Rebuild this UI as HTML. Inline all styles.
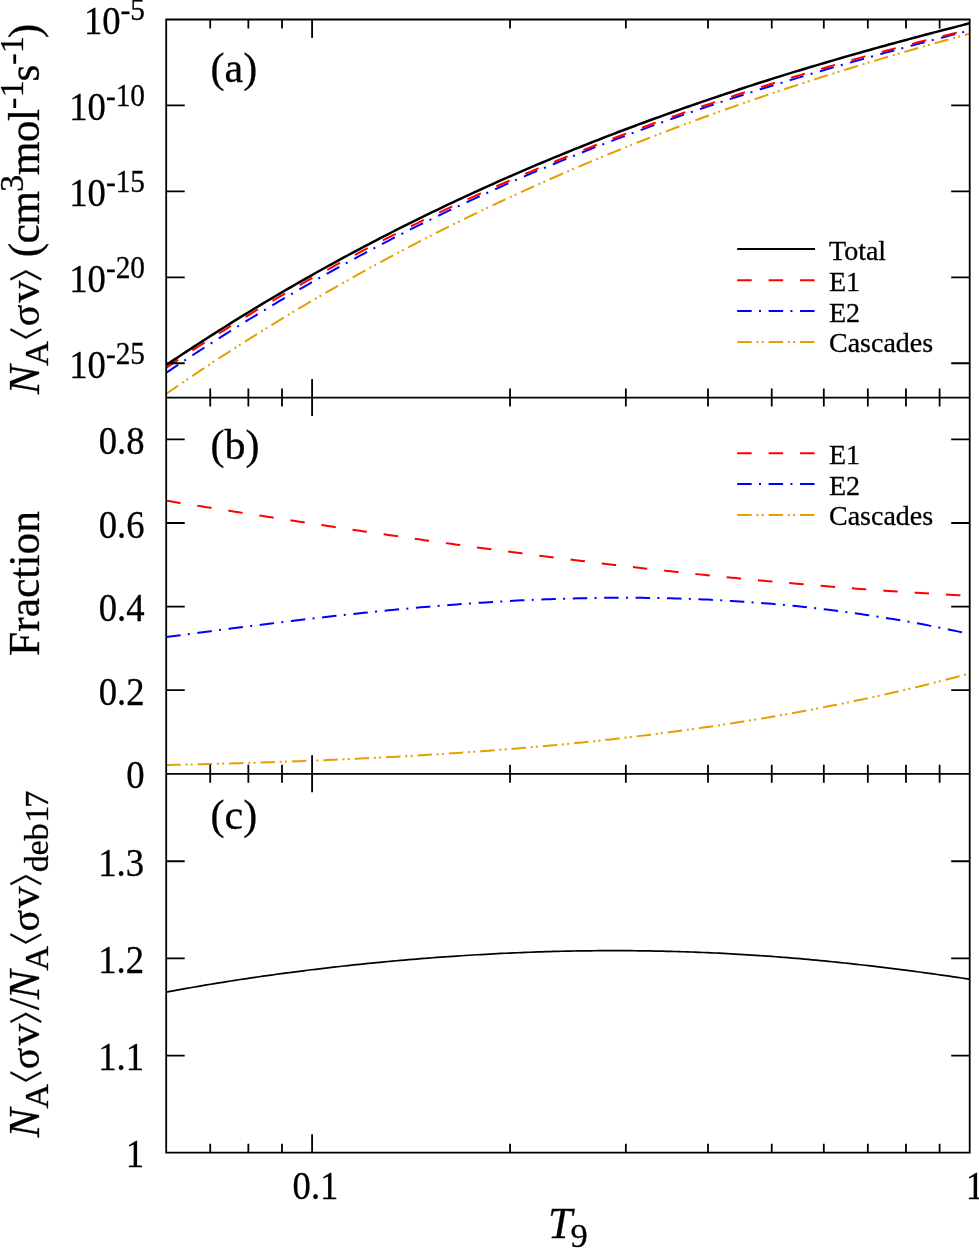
<!DOCTYPE html><html><head><meta charset="utf-8"><title>Rate plot</title><style>html,body{margin:0;padding:0;background:#fff;}svg{display:block;}text{font-family:"Liberation Serif","DejaVu Serif",serif;fill:#000;stroke:#000;stroke-width:0.3px;}</style></head><body>
<svg width="979" height="1248" viewBox="0 0 979 1248">
<rect width="979" height="1248" fill="#fff"/>
<defs><clipPath id="ca"><rect x="166.2" y="19.5" width="803.5" height="378.1"/></clipPath>
<clipPath id="cb"><rect x="166.2" y="397.6" width="803.5" height="376.2"/></clipPath>
<clipPath id="cc"><rect x="166.2" y="773.8" width="803.5" height="378.9"/></clipPath></defs>
<g fill="none" stroke-linejoin="round" clip-path="url(#ca)">
<polyline points="166.20,393.80 170.24,391.01 174.28,388.24 178.31,385.48 182.35,382.73 186.39,379.99 190.43,377.27 194.46,374.55 198.50,371.85 202.54,369.17 206.58,366.49 210.61,363.83 214.65,361.17 218.69,358.53 222.73,355.91 226.77,353.29 230.80,350.69 234.84,348.09 238.88,345.51 242.92,342.94 246.95,340.39 250.99,337.84 255.03,335.31 259.07,332.78 263.10,330.27 267.14,327.77 271.18,325.29 275.22,322.81 279.26,320.35 283.29,317.89 287.33,315.45 291.37,313.02 295.41,310.60 299.44,308.19 303.48,305.79 307.52,303.41 311.56,301.03 315.59,298.67 319.63,296.32 323.67,293.98 327.71,291.64 331.75,289.32 335.78,287.02 339.82,284.72 343.86,282.43 347.90,280.15 351.93,277.89 355.97,275.63 360.01,273.39 364.05,271.16 368.08,268.93 372.12,266.72 376.16,264.52 380.20,262.33 384.24,260.15 388.27,257.98 392.31,255.82 396.35,253.67 400.39,251.53 404.42,249.40 408.46,247.28 412.50,245.17 416.54,243.07 420.57,240.98 424.61,238.90 428.65,236.84 432.69,234.78 436.73,232.73 440.76,230.69 444.80,228.66 448.84,226.64 452.88,224.63 456.91,222.63 460.95,220.65 464.99,218.67 469.03,216.70 473.06,214.73 477.10,212.78 481.14,210.84 485.18,208.91 489.22,206.99 493.25,205.07 497.29,203.17 501.33,201.27 505.37,199.39 509.40,197.51 513.44,195.65 517.48,193.79 521.52,191.94 525.55,190.10 529.59,188.27 533.63,186.45 537.67,184.64 541.71,182.83 545.74,181.04 549.78,179.25 553.82,177.47 557.86,175.71 561.89,173.95 565.93,172.20 569.97,170.45 574.01,168.72 578.04,166.99 582.08,165.28 586.12,163.57 590.16,161.87 594.19,160.18 598.23,158.50 602.27,156.82 606.31,155.15 610.35,153.50 614.38,151.85 618.42,150.20 622.46,148.57 626.50,146.94 630.53,145.33 634.57,143.72 638.61,142.11 642.65,140.52 646.68,138.93 650.72,137.36 654.76,135.79 658.80,134.22 662.84,132.67 666.87,131.12 670.91,129.58 674.95,128.05 678.99,126.52 683.02,125.01 687.06,123.50 691.10,121.99 695.14,120.50 699.17,119.01 703.21,117.53 707.25,116.06 711.29,114.59 715.33,113.13 719.36,111.68 723.40,110.23 727.44,108.79 731.48,107.36 735.51,105.94 739.55,104.52 743.59,103.11 747.63,101.71 751.66,100.31 755.70,98.92 759.74,97.54 763.78,96.16 767.82,94.79 771.85,93.42 775.89,92.07 779.93,90.71 783.97,89.37 788.00,88.03 792.04,86.70 796.08,85.37 800.12,84.05 804.15,82.74 808.19,81.43 812.23,80.13 816.27,78.83 820.31,77.55 824.34,76.26 828.38,74.98 832.42,73.71 836.46,72.45 840.49,71.19 844.53,69.93 848.57,68.68 852.61,67.44 856.64,66.20 860.68,64.97 864.72,63.74 868.76,62.52 872.80,61.31 876.83,60.10 880.87,58.89 884.91,57.69 888.95,56.50 892.98,55.31 897.02,54.12 901.06,52.94 905.10,51.77 909.13,50.60 913.17,49.43 917.21,48.27 921.25,47.12 925.29,45.97 929.32,44.83 933.36,43.68 937.40,42.55 941.44,41.42 945.47,40.29 949.51,39.17 953.55,38.05 957.59,36.94 961.62,35.83 965.66,34.72 969.70,33.62" stroke="#e69f00" stroke-width="2.00" stroke-dasharray="14.5 4.75 2 3.25 2 4.93"/>
<polyline points="166.20,372.79 170.24,370.07 174.28,367.37 178.31,364.68 182.35,362.00 186.39,359.33 190.43,356.67 194.46,354.03 198.50,351.39 202.54,348.77 206.58,346.16 210.61,343.57 214.65,340.98 218.69,338.41 222.73,335.85 226.77,333.30 230.80,330.76 234.84,328.23 238.88,325.72 242.92,323.22 246.95,320.72 250.99,318.25 255.03,315.78 259.07,313.32 263.10,310.88 267.14,308.45 271.18,306.03 275.22,303.62 279.26,301.22 283.29,298.84 287.33,296.46 291.37,294.10 295.41,291.75 299.44,289.41 303.48,287.08 307.52,284.76 311.56,282.46 315.59,280.17 319.63,277.88 323.67,275.61 327.71,273.35 331.75,271.10 335.78,268.87 339.82,266.64 343.86,264.43 347.90,262.22 351.93,260.03 355.97,257.85 360.01,255.68 364.05,253.52 368.08,251.38 372.12,249.24 376.16,247.11 380.20,245.00 384.24,242.89 388.27,240.80 392.31,238.72 396.35,236.65 400.39,234.59 404.42,232.54 408.46,230.50 412.50,228.47 416.54,226.46 420.57,224.45 424.61,222.45 428.65,220.47 432.69,218.49 436.73,216.53 440.76,214.57 444.80,212.63 448.84,210.70 452.88,208.77 456.91,206.86 460.95,204.96 464.99,203.07 469.03,201.19 473.06,199.31 477.10,197.45 481.14,195.60 485.18,193.76 489.22,191.93 493.25,190.11 497.29,188.30 501.33,186.49 505.37,184.70 509.40,182.92 513.44,181.15 517.48,179.39 521.52,177.63 525.55,175.89 529.59,174.16 533.63,172.43 537.67,170.72 541.71,169.01 545.74,167.32 549.78,165.63 553.82,163.96 557.86,162.29 561.89,160.63 565.93,158.98 569.97,157.34 574.01,155.71 578.04,154.09 582.08,152.47 586.12,150.87 590.16,149.27 594.19,147.69 598.23,146.11 602.27,144.54 606.31,142.98 610.35,141.43 614.38,139.88 618.42,138.35 622.46,136.82 626.50,135.31 630.53,133.80 634.57,132.30 638.61,130.80 642.65,129.32 646.68,127.84 650.72,126.37 654.76,124.91 658.80,123.46 662.84,122.01 666.87,120.58 670.91,119.15 674.95,117.73 678.99,116.31 683.02,114.91 687.06,113.51 691.10,112.12 695.14,110.73 699.17,109.36 703.21,107.99 707.25,106.63 711.29,105.27 715.33,103.93 719.36,102.58 723.40,101.25 727.44,99.92 731.48,98.61 735.51,97.29 739.55,95.99 743.59,94.69 747.63,93.39 751.66,92.11 755.70,90.83 759.74,89.56 763.78,88.29 767.82,87.03 771.85,85.77 775.89,84.53 779.93,83.28 783.97,82.05 788.00,80.82 792.04,79.59 796.08,78.37 800.12,77.16 804.15,75.95 808.19,74.75 812.23,73.56 816.27,72.37 820.31,71.18 824.34,70.00 828.38,68.83 832.42,67.66 836.46,66.49 840.49,65.33 844.53,64.18 848.57,63.03 852.61,61.88 856.64,60.74 860.68,59.61 864.72,58.48 868.76,57.35 872.80,56.23 876.83,55.11 880.87,54.00 884.91,52.89 888.95,51.78 892.98,50.68 897.02,49.58 901.06,48.49 905.10,47.40 909.13,46.31 913.17,45.23 917.21,44.15 921.25,43.08 925.29,42.00 929.32,40.94 933.36,39.87 937.40,38.81 941.44,37.75 945.47,36.69 949.51,35.64 953.55,34.59 957.59,33.54 961.62,32.49 965.66,31.45 969.70,30.41" stroke="#0000ff" stroke-width="2.00" stroke-dasharray="14.5 7.3 2 7.63"/>
<polyline points="166.20,367.80 170.24,365.09 174.28,362.39 178.31,359.70 182.35,357.03 186.39,354.37 190.43,351.73 194.46,349.10 198.50,346.48 202.54,343.87 206.58,341.28 210.61,338.71 214.65,336.14 218.69,333.59 222.73,331.06 226.77,328.53 230.80,326.02 234.84,323.52 238.88,321.04 242.92,318.57 246.95,316.11 250.99,313.66 255.03,311.23 259.07,308.81 263.10,306.40 267.14,304.00 271.18,301.62 275.22,299.25 279.26,296.89 283.29,294.54 287.33,292.21 291.37,289.88 295.41,287.57 299.44,285.27 303.48,282.99 307.52,280.71 311.56,278.45 315.59,276.20 319.63,273.96 323.67,271.73 327.71,269.51 331.75,267.31 335.78,265.11 339.82,262.93 343.86,260.76 347.90,258.60 351.93,256.45 355.97,254.31 360.01,252.18 364.05,250.07 368.08,247.96 372.12,245.87 376.16,243.78 380.20,241.71 384.24,239.65 388.27,237.60 392.31,235.56 396.35,233.53 400.39,231.51 404.42,229.50 408.46,227.50 412.50,225.51 416.54,223.53 420.57,221.56 424.61,219.60 428.65,217.65 432.69,215.71 436.73,213.79 440.76,211.87 444.80,209.96 448.84,208.06 452.88,206.17 456.91,204.29 460.95,202.42 464.99,200.56 469.03,198.71 473.06,196.87 477.10,195.03 481.14,193.21 485.18,191.40 489.22,189.59 493.25,187.80 497.29,186.01 501.33,184.24 505.37,182.47 509.40,180.71 513.44,178.96 517.48,177.22 521.52,175.49 525.55,173.77 529.59,172.05 533.63,170.35 537.67,168.65 541.71,166.96 545.74,165.28 549.78,163.61 553.82,161.95 557.86,160.30 561.89,158.65 565.93,157.01 569.97,155.39 574.01,153.77 578.04,152.15 582.08,150.55 586.12,148.95 590.16,147.37 594.19,145.79 598.23,144.22 602.27,142.65 606.31,141.10 610.35,139.55 614.38,138.01 618.42,136.48 622.46,134.96 626.50,133.44 630.53,131.93 634.57,130.43 638.61,128.94 642.65,127.45 646.68,125.97 650.72,124.50 654.76,123.04 658.80,121.59 662.84,120.14 666.87,118.70 670.91,117.27 674.95,115.84 678.99,114.42 683.02,113.01 687.06,111.61 691.10,110.21 695.14,108.82 699.17,107.44 703.21,106.06 707.25,104.69 711.29,103.33 715.33,101.98 719.36,100.63 723.40,99.29 727.44,97.96 731.48,96.63 735.51,95.31 739.55,94.00 743.59,92.69 747.63,91.39 751.66,90.10 755.70,88.81 759.74,87.53 763.78,86.26 767.82,85.00 771.85,83.74 775.89,82.48 779.93,81.24 783.97,80.00 788.00,78.76 792.04,77.54 796.08,76.31 800.12,75.10 804.15,73.89 808.19,72.69 812.23,71.50 816.27,70.31 820.31,69.12 824.34,67.95 828.38,66.78 832.42,65.61 836.46,64.45 840.49,63.30 844.53,62.16 848.57,61.02 852.61,59.88 856.64,58.76 860.68,57.63 864.72,56.52 868.76,55.41 872.80,54.31 876.83,53.21 880.87,52.12 884.91,51.03 888.95,49.95 892.98,48.88 897.02,47.81 901.06,46.75 905.10,45.69 909.13,44.64 913.17,43.60 917.21,42.56 921.25,41.52 925.29,40.50 929.32,39.48 933.36,38.46 937.40,37.45 941.44,36.45 945.47,35.45 949.51,34.45 953.55,33.47 957.59,32.48 961.62,31.51 965.66,30.54 969.70,29.57" stroke="#ff0000" stroke-width="2.00" stroke-dasharray="14.5 16.93"/>
<polyline points="166.20,365.06 170.24,362.34 174.28,359.64 178.31,356.95 182.35,354.28 186.39,351.61 190.43,348.96 194.46,346.33 198.50,343.70 202.54,341.09 206.58,338.49 210.61,335.91 214.65,333.34 218.69,330.78 222.73,328.23 226.77,325.69 230.80,323.17 234.84,320.66 238.88,318.17 242.92,315.68 246.95,313.21 250.99,310.75 255.03,308.30 259.07,305.87 263.10,303.44 267.14,301.03 271.18,298.63 275.22,296.24 279.26,293.87 283.29,291.50 287.33,289.15 291.37,286.81 295.41,284.48 299.44,282.17 303.48,279.86 307.52,277.57 311.56,275.29 315.59,273.02 319.63,270.76 323.67,268.51 327.71,266.28 331.75,264.05 335.78,261.84 339.82,259.63 343.86,257.44 347.90,255.26 351.93,253.09 355.97,250.94 360.01,248.79 364.05,246.65 368.08,244.53 372.12,242.41 376.16,240.31 380.20,238.22 384.24,236.13 388.27,234.06 392.31,232.00 396.35,229.95 400.39,227.91 404.42,225.88 408.46,223.86 412.50,221.85 416.54,219.86 420.57,217.87 424.61,215.89 428.65,213.92 432.69,211.96 436.73,210.02 440.76,208.08 444.80,206.15 448.84,204.23 452.88,202.32 456.91,200.43 460.95,198.54 464.99,196.66 469.03,194.79 473.06,192.93 477.10,191.08 481.14,189.24 485.18,187.41 489.22,185.59 493.25,183.78 497.29,181.98 501.33,180.18 505.37,178.40 509.40,176.63 513.44,174.86 517.48,173.10 521.52,171.36 525.55,169.62 529.59,167.89 533.63,166.17 537.67,164.46 541.71,162.76 545.74,161.06 549.78,159.38 553.82,157.70 557.86,156.04 561.89,154.38 565.93,152.73 569.97,151.09 574.01,149.46 578.04,147.83 582.08,146.22 586.12,144.61 590.16,143.01 594.19,141.42 598.23,139.84 602.27,138.26 606.31,136.69 610.35,135.14 614.38,133.59 618.42,132.04 622.46,130.51 626.50,128.98 630.53,127.47 634.57,125.96 638.61,124.45 642.65,122.96 646.68,121.47 650.72,119.99 654.76,118.52 658.80,117.06 662.84,115.60 666.87,114.15 670.91,112.71 674.95,111.27 678.99,109.84 683.02,108.42 687.06,107.01 691.10,105.61 695.14,104.21 699.17,102.82 703.21,101.43 707.25,100.06 711.29,98.68 715.33,97.32 719.36,95.96 723.40,94.62 727.44,93.27 731.48,91.94 735.51,90.61 739.55,89.28 743.59,87.97 747.63,86.66 751.66,85.35 755.70,84.06 759.74,82.77 763.78,81.48 767.82,80.21 771.85,78.93 775.89,77.67 779.93,76.41 783.97,75.16 788.00,73.91 792.04,72.67 796.08,71.43 800.12,70.21 804.15,68.98 808.19,67.76 812.23,66.55 816.27,65.35 820.31,64.15 824.34,62.95 828.38,61.76 832.42,60.58 836.46,59.40 840.49,58.23 844.53,57.07 848.57,55.90 852.61,54.75 856.64,53.60 860.68,52.45 864.72,51.31 868.76,50.18 872.80,49.04 876.83,47.92 880.87,46.80 884.91,45.68 888.95,44.57 892.98,43.47 897.02,42.37 901.06,41.27 905.10,40.18 909.13,39.09 913.17,38.01 917.21,36.93 921.25,35.86 925.29,34.79 929.32,33.72 933.36,32.66 937.40,31.61 941.44,30.56 945.47,29.51 949.51,28.46 953.55,27.42 957.59,26.39 961.62,25.36 965.66,24.33 969.70,23.31" stroke="#000" stroke-width="2.50"/>
</g>
<g fill="none" stroke-linejoin="round" clip-path="url(#cb)">
<polyline points="166.20,765.00 170.24,764.91 174.28,764.82 178.31,764.73 182.35,764.64 186.39,764.54 190.43,764.45 194.46,764.35 198.50,764.25 202.54,764.15 206.58,764.05 210.61,763.94 214.65,763.84 218.69,763.73 222.73,763.62 226.77,763.51 230.80,763.39 234.84,763.28 238.88,763.16 242.92,763.04 246.95,762.92 250.99,762.79 255.03,762.67 259.07,762.54 263.10,762.41 267.14,762.28 271.18,762.14 275.22,762.01 279.26,761.87 283.29,761.73 287.33,761.58 291.37,761.44 295.41,761.29 299.44,761.14 303.48,760.98 307.52,760.83 311.56,760.67 315.59,760.50 319.63,760.34 323.67,760.17 327.71,760.00 331.75,759.83 335.78,759.66 339.82,759.48 343.86,759.30 347.90,759.12 351.93,758.93 355.97,758.74 360.01,758.55 364.05,758.35 368.08,758.16 372.12,757.95 376.16,757.75 380.20,757.54 384.24,757.33 388.27,757.12 392.31,756.90 396.35,756.68 400.39,756.46 404.42,756.23 408.46,756.00 412.50,755.77 416.54,755.53 420.57,755.29 424.61,755.04 428.65,754.80 432.69,754.55 436.73,754.29 440.76,754.03 444.80,753.77 448.84,753.50 452.88,753.24 456.91,752.96 460.95,752.68 464.99,752.40 469.03,752.12 473.06,751.83 477.10,751.54 481.14,751.24 485.18,750.94 489.22,750.63 493.25,750.32 497.29,750.01 501.33,749.69 505.37,749.37 509.40,749.05 513.44,748.72 517.48,748.38 521.52,748.04 525.55,747.70 529.59,747.35 533.63,747.00 537.67,746.64 541.71,746.28 545.74,745.91 549.78,745.54 553.82,745.17 557.86,744.78 561.89,744.40 565.93,744.01 569.97,743.61 574.01,743.22 578.04,742.81 582.08,742.40 586.12,741.99 590.16,741.57 594.19,741.14 598.23,740.71 602.27,740.28 606.31,739.84 610.35,739.39 614.38,738.94 618.42,738.48 622.46,738.02 626.50,737.55 630.53,737.08 634.57,736.60 638.61,736.12 642.65,735.63 646.68,735.14 650.72,734.64 654.76,734.13 658.80,733.62 662.84,733.10 666.87,732.58 670.91,732.05 674.95,731.51 678.99,730.97 683.02,730.42 687.06,729.87 691.10,729.31 695.14,728.75 699.17,728.17 703.21,727.60 707.25,727.01 711.29,726.42 715.33,725.82 719.36,725.22 723.40,724.61 727.44,723.99 731.48,723.37 735.51,722.74 739.55,722.11 743.59,721.46 747.63,720.81 751.66,720.16 755.70,719.50 759.74,718.83 763.78,718.15 767.82,717.47 771.85,716.78 775.89,716.08 779.93,715.37 783.97,714.66 788.00,713.94 792.04,713.22 796.08,712.48 800.12,711.74 804.15,711.00 808.19,710.24 812.23,709.48 816.27,708.71 820.31,707.93 824.34,707.14 828.38,706.35 832.42,705.55 836.46,704.74 840.49,703.93 844.53,703.10 848.57,702.27 852.61,701.43 856.64,700.58 860.68,699.73 864.72,698.87 868.76,697.99 872.80,697.11 876.83,696.23 880.87,695.33 884.91,694.43 888.95,693.51 892.98,692.59 897.02,691.66 901.06,690.73 905.10,689.78 909.13,688.82 913.17,687.86 917.21,686.89 921.25,685.91 925.29,684.92 929.32,683.92 933.36,682.91 937.40,681.89 941.44,680.87 945.47,679.83 949.51,678.79 953.55,677.74 957.59,676.68 961.62,675.61 965.66,674.52 969.70,673.44" stroke="#e69f00" stroke-width="2.00" stroke-dasharray="14.5 4.75 2 3.25 2 4.93"/>
<polyline points="166.20,637.05 170.24,636.52 174.28,635.98 178.31,635.45 182.35,634.92 186.39,634.38 190.43,633.85 194.46,633.32 198.50,632.79 202.54,632.26 206.58,631.73 210.61,631.20 214.65,630.68 218.69,630.15 222.73,629.63 226.77,629.11 230.80,628.59 234.84,628.07 238.88,627.55 242.92,627.03 246.95,626.52 250.99,626.01 255.03,625.50 259.07,624.99 263.10,624.49 267.14,623.98 271.18,623.48 275.22,622.98 279.26,622.49 283.29,622.00 287.33,621.51 291.37,621.02 295.41,620.53 299.44,620.05 303.48,619.57 307.52,619.10 311.56,618.63 315.59,618.16 319.63,617.69 323.67,617.23 327.71,616.77 331.75,616.31 335.78,615.86 339.82,615.42 343.86,614.97 347.90,614.53 351.93,614.10 355.97,613.66 360.01,613.24 364.05,612.81 368.08,612.39 372.12,611.98 376.16,611.57 380.20,611.16 384.24,610.76 388.27,610.36 392.31,609.97 396.35,609.59 400.39,609.20 404.42,608.83 408.46,608.45 412.50,608.09 416.54,607.73 420.57,607.37 424.61,607.02 428.65,606.67 432.69,606.33 436.73,606.00 440.76,605.67 444.80,605.34 448.84,605.03 452.88,604.71 456.91,604.41 460.95,604.11 464.99,603.81 469.03,603.53 473.06,603.25 477.10,602.97 481.14,602.70 485.18,602.44 489.22,602.18 493.25,601.93 497.29,601.69 501.33,601.45 505.37,601.22 509.40,601.00 513.44,600.78 517.48,600.57 521.52,600.37 525.55,600.17 529.59,599.99 533.63,599.80 537.67,599.63 541.71,599.46 545.74,599.30 549.78,599.15 553.82,599.01 557.86,598.87 561.89,598.74 565.93,598.62 569.97,598.51 574.01,598.40 578.04,598.30 582.08,598.21 586.12,598.13 590.16,598.05 594.19,597.99 598.23,597.93 602.27,597.88 606.31,597.83 610.35,597.80 614.38,597.78 618.42,597.76 622.46,597.75 626.50,597.75 630.53,597.76 634.57,597.77 638.61,597.80 642.65,597.84 646.68,597.88 650.72,597.93 654.76,597.99 658.80,598.06 662.84,598.14 666.87,598.23 670.91,598.33 674.95,598.43 678.99,598.55 683.02,598.67 687.06,598.81 691.10,598.95 695.14,599.10 699.17,599.26 703.21,599.44 707.25,599.62 711.29,599.81 715.33,600.01 719.36,600.22 723.40,600.44 727.44,600.67 731.48,600.91 735.51,601.16 739.55,601.42 743.59,601.69 747.63,601.97 751.66,602.26 755.70,602.56 759.74,602.87 763.78,603.19 767.82,603.52 771.85,603.86 775.89,604.21 779.93,604.57 783.97,604.94 788.00,605.33 792.04,605.72 796.08,606.12 800.12,606.54 804.15,606.96 808.19,607.40 812.23,607.84 816.27,608.30 820.31,608.77 824.34,609.25 828.38,609.74 832.42,610.24 836.46,610.75 840.49,611.27 844.53,611.80 848.57,612.35 852.61,612.90 856.64,613.47 860.68,614.05 864.72,614.64 868.76,615.24 872.80,615.85 876.83,616.47 880.87,617.11 884.91,617.75 888.95,618.41 892.98,619.08 897.02,619.76 901.06,620.45 905.10,621.16 909.13,621.87 913.17,622.60 917.21,623.34 921.25,624.09 925.29,624.85 929.32,625.62 933.36,626.41 937.40,627.21 941.44,628.02 945.47,628.84 949.51,629.67 953.55,630.52 957.59,631.37 961.62,632.24 965.66,633.12 969.70,634.02" stroke="#0000ff" stroke-width="2.00" stroke-dasharray="14.5 7.3 2 7.63"/>
<polyline points="166.20,500.68 170.24,501.34 174.28,501.99 178.31,502.64 182.35,503.29 186.39,503.94 190.43,504.59 194.46,505.23 198.50,505.88 202.54,506.52 206.58,507.17 210.61,507.81 214.65,508.45 218.69,509.10 222.73,509.74 226.77,510.37 230.80,511.01 234.84,511.65 238.88,512.28 242.92,512.92 246.95,513.55 250.99,514.19 255.03,514.82 259.07,515.45 263.10,516.08 267.14,516.70 271.18,517.33 275.22,517.96 279.26,518.58 283.29,519.20 287.33,519.82 291.37,520.44 295.41,521.06 299.44,521.68 303.48,522.30 307.52,522.91 311.56,523.53 315.59,524.14 319.63,524.75 323.67,525.36 327.71,525.97 331.75,526.58 335.78,527.18 339.82,527.79 343.86,528.39 347.90,528.99 351.93,529.59 355.97,530.19 360.01,530.79 364.05,531.39 368.08,531.98 372.12,532.57 376.16,533.16 380.20,533.75 384.24,534.34 388.27,534.93 392.31,535.51 396.35,536.10 400.39,536.68 404.42,537.26 408.46,537.84 412.50,538.42 416.54,538.99 420.57,539.57 424.61,540.14 428.65,540.71 432.69,541.28 436.73,541.85 440.76,542.41 444.80,542.98 448.84,543.54 452.88,544.10 456.91,544.66 460.95,545.21 464.99,545.77 469.03,546.32 473.06,546.87 477.10,547.42 481.14,547.97 485.18,548.51 489.22,549.06 493.25,549.60 497.29,550.14 501.33,550.68 505.37,551.21 509.40,551.75 513.44,552.28 517.48,552.81 521.52,553.34 525.55,553.87 529.59,554.39 533.63,554.91 537.67,555.43 541.71,555.95 545.74,556.47 549.78,556.98 553.82,557.49 557.86,558.00 561.89,558.51 565.93,559.01 569.97,559.52 574.01,560.02 578.04,560.52 582.08,561.01 586.12,561.51 590.16,562.00 594.19,562.49 598.23,562.98 602.27,563.46 606.31,563.94 610.35,564.42 614.38,564.90 618.42,565.38 622.46,565.85 626.50,566.32 630.53,566.79 634.57,567.26 638.61,567.72 642.65,568.18 646.68,568.64 650.72,569.09 654.76,569.55 658.80,570.00 662.84,570.45 666.87,570.89 670.91,571.34 674.95,571.78 678.99,572.22 683.02,572.65 687.06,573.08 691.10,573.52 695.14,573.94 699.17,574.37 703.21,574.79 707.25,575.21 711.29,575.63 715.33,576.04 719.36,576.45 723.40,576.86 727.44,577.27 731.48,577.67 735.51,578.07 739.55,578.47 743.59,578.86 747.63,579.25 751.66,579.64 755.70,580.02 759.74,580.41 763.78,580.79 767.82,581.16 771.85,581.54 775.89,581.91 779.93,582.27 783.97,582.64 788.00,583.00 792.04,583.36 796.08,583.71 800.12,584.07 804.15,584.41 808.19,584.76 812.23,585.10 816.27,585.44 820.31,585.78 824.34,586.11 828.38,586.44 832.42,586.77 836.46,587.09 840.49,587.41 844.53,587.73 848.57,588.04 852.61,588.35 856.64,588.66 860.68,588.96 864.72,589.26 868.76,589.55 872.80,589.85 876.83,590.14 880.87,590.42 884.91,590.70 888.95,590.98 892.98,591.26 897.02,591.53 901.06,591.80 905.10,592.06 909.13,592.32 913.17,592.58 917.21,592.83 921.25,593.08 925.29,593.33 929.32,593.57 933.36,593.81 937.40,594.04 941.44,594.27 945.47,594.50 949.51,594.72 953.55,594.94 957.59,595.16 961.62,595.37 965.66,595.58 969.70,595.78" stroke="#ff0000" stroke-width="2.00" stroke-dasharray="14.5 16.93"/>
</g>
<g fill="none" stroke-linejoin="round" clip-path="url(#cc)">
<polyline points="166.20,992.15 170.24,991.39 174.28,990.64 178.31,989.90 182.35,989.17 186.39,988.45 190.43,987.73 194.46,987.03 198.50,986.33 202.54,985.64 206.58,984.96 210.61,984.28 214.65,983.62 218.69,982.96 222.73,982.31 226.77,981.66 230.80,981.03 234.84,980.40 238.88,979.78 242.92,979.16 246.95,978.56 250.99,977.96 255.03,977.36 259.07,976.78 263.10,976.20 267.14,975.63 271.18,975.06 275.22,974.51 279.26,973.95 283.29,973.41 287.33,972.87 291.37,972.34 295.41,971.82 299.44,971.30 303.48,970.79 307.52,970.28 311.56,969.78 315.59,969.29 319.63,968.80 323.67,968.33 327.71,967.85 331.75,967.39 335.78,966.93 339.82,966.47 343.86,966.02 347.90,965.58 351.93,965.15 355.97,964.72 360.01,964.30 364.05,963.88 368.08,963.47 372.12,963.06 376.16,962.67 380.20,962.28 384.24,961.89 388.27,961.51 392.31,961.14 396.35,960.77 400.39,960.41 404.42,960.06 408.46,959.71 412.50,959.37 416.54,959.03 420.57,958.70 424.61,958.38 428.65,958.06 432.69,957.75 436.73,957.45 440.76,957.15 444.80,956.86 448.84,956.58 452.88,956.30 456.91,956.03 460.95,955.76 464.99,955.50 469.03,955.25 473.06,955.00 477.10,954.76 481.14,954.53 485.18,954.30 489.22,954.08 493.25,953.87 497.29,953.66 501.33,953.46 505.37,953.27 509.40,953.08 513.44,952.90 517.48,952.73 521.52,952.56 525.55,952.40 529.59,952.25 533.63,952.10 537.67,951.96 541.71,951.83 545.74,951.70 549.78,951.59 553.82,951.47 557.86,951.37 561.89,951.27 565.93,951.18 569.97,951.10 574.01,951.02 578.04,950.95 582.08,950.89 586.12,950.84 590.16,950.79 594.19,950.75 598.23,950.72 602.27,950.69 606.31,950.67 610.35,950.66 614.38,950.66 618.42,950.66 622.46,950.67 626.50,950.69 630.53,950.72 634.57,950.75 638.61,950.79 642.65,950.84 646.68,950.90 650.72,950.96 654.76,951.03 658.80,951.11 662.84,951.20 666.87,951.29 670.91,951.40 674.95,951.51 678.99,951.62 683.02,951.75 687.06,951.88 691.10,952.02 695.14,952.17 699.17,952.32 703.21,952.49 707.25,952.66 711.29,952.84 715.33,953.02 719.36,953.22 723.40,953.42 727.44,953.63 731.48,953.85 735.51,954.07 739.55,954.31 743.59,954.55 747.63,954.79 751.66,955.05 755.70,955.31 759.74,955.59 763.78,955.86 767.82,956.15 771.85,956.44 775.89,956.75 779.93,957.05 783.97,957.37 788.00,957.70 792.04,958.03 796.08,958.37 800.12,958.71 804.15,959.07 808.19,959.43 812.23,959.79 816.27,960.17 820.31,960.55 824.34,960.94 828.38,961.34 832.42,961.74 836.46,962.15 840.49,962.57 844.53,963.00 848.57,963.43 852.61,963.87 856.64,964.31 860.68,964.76 864.72,965.22 868.76,965.69 872.80,966.16 876.83,966.64 880.87,967.12 884.91,967.61 888.95,968.10 892.98,968.61 897.02,969.12 901.06,969.63 905.10,970.15 909.13,970.67 913.17,971.20 917.21,971.74 921.25,972.28 925.29,972.83 929.32,973.38 933.36,973.94 937.40,974.50 941.44,975.07 945.47,975.64 949.51,976.21 953.55,976.79 957.59,977.38 961.62,977.97 965.66,978.56 969.70,979.15" stroke="#000" stroke-width="1.70"/>
</g>
<path d="M312.09 19.50v18.50M312.09 397.60v-18.50M210.22 19.50v9.00M210.22 397.60v-9.00M248.36 19.50v9.00M248.36 397.60v-9.00M282.00 19.50v9.00M282.00 397.60v-9.00M510.05 19.50v9.00M510.05 397.60v-9.00M625.85 19.50v9.00M625.85 397.60v-9.00M708.01 19.50v9.00M708.01 397.60v-9.00M771.74 19.50v9.00M771.74 397.60v-9.00M823.81 19.50v9.00M823.81 397.60v-9.00M867.83 19.50v9.00M867.83 397.60v-9.00M905.97 19.50v9.00M905.97 397.60v-9.00M939.61 19.50v9.00M939.61 397.60v-9.00M312.09 397.60v18.50M312.09 773.80v-18.50M210.22 397.60v9.00M210.22 773.80v-9.00M248.36 397.60v9.00M248.36 773.80v-9.00M282.00 397.60v9.00M282.00 773.80v-9.00M510.05 397.60v9.00M510.05 773.80v-9.00M625.85 397.60v9.00M625.85 773.80v-9.00M708.01 397.60v9.00M708.01 773.80v-9.00M771.74 397.60v9.00M771.74 773.80v-9.00M823.81 397.60v9.00M823.81 773.80v-9.00M867.83 397.60v9.00M867.83 773.80v-9.00M905.97 397.60v9.00M905.97 773.80v-9.00M939.61 397.60v9.00M939.61 773.80v-9.00M312.09 773.80v18.50M312.09 1152.70v-18.50M210.22 773.80v9.00M210.22 1152.70v-9.00M248.36 773.80v9.00M248.36 1152.70v-9.00M282.00 773.80v9.00M282.00 1152.70v-9.00M510.05 773.80v9.00M510.05 1152.70v-9.00M625.85 773.80v9.00M625.85 1152.70v-9.00M708.01 773.80v9.00M708.01 1152.70v-9.00M771.74 773.80v9.00M771.74 1152.70v-9.00M823.81 773.80v9.00M823.81 1152.70v-9.00M867.83 773.80v9.00M867.83 1152.70v-9.00M905.97 773.80v9.00M905.97 1152.70v-9.00M939.61 773.80v9.00M939.61 1152.70v-9.00M166.20 105.43h18.50M969.70 105.43h-18.50M166.20 191.36h18.50M969.70 191.36h-18.50M166.20 277.30h18.50M969.70 277.30h-18.50M166.20 363.23h18.50M969.70 363.23h-18.50M166.20 690.20h18.50M969.70 690.20h-18.50M166.20 606.60h18.50M969.70 606.60h-18.50M166.20 523.00h18.50M969.70 523.00h-18.50M166.20 439.40h18.50M969.70 439.40h-18.50M166.20 1055.55h18.50M969.70 1055.55h-18.50M166.20 958.40h18.50M969.70 958.40h-18.50M166.20 861.25h18.50M969.70 861.25h-18.50" stroke="#000" stroke-width="1.80" fill="none"/>
<path d="M166.20 19.50H969.70V1152.70H166.20Z M166.20 397.60H969.70 M166.20 773.80H969.70" stroke="#000" stroke-width="1.80" fill="none" stroke-linejoin="miter"/>
<line x1="737.2" y1="249.1" x2="815.0" y2="249.1" stroke="#000" stroke-width="2.00"/>
<line x1="737.2" y1="280.3" x2="815.0" y2="280.3" stroke="#ff0000" stroke-width="2.00" stroke-dasharray="14.5 16.93"/>
<line x1="737.2" y1="310.9" x2="815.0" y2="310.9" stroke="#0000ff" stroke-width="2.00" stroke-dasharray="14.5 7.3 2 7.63"/>
<line x1="737.2" y1="342.0" x2="815.0" y2="342.0" stroke="#e69f00" stroke-width="2.00" stroke-dasharray="14.5 4.75 2 3.25 2 4.93"/>
<line x1="737.2" y1="453.3" x2="815.0" y2="453.3" stroke="#ff0000" stroke-width="2.00" stroke-dasharray="14.5 16.93"/>
<line x1="737.2" y1="483.9" x2="815.0" y2="483.9" stroke="#0000ff" stroke-width="2.00" stroke-dasharray="14.5 7.3 2 7.63"/>
<line x1="737.2" y1="515.1" x2="815.0" y2="515.1" stroke="#e69f00" stroke-width="2.00" stroke-dasharray="14.5 4.75 2 3.25 2 4.93"/>
<text x="829" y="259.9" font-size="28">Total</text>
<text x="829" y="290.8" font-size="28">E1</text>
<text x="829" y="321.9" font-size="28">E2</text>
<text x="829" y="352.1" font-size="28">Cascades</text>
<text x="829" y="463.8" font-size="28">E1</text>
<text x="829" y="495.0" font-size="28">E2</text>
<text x="829" y="525.1" font-size="28">Cascades</text>
<text x="210.5" y="82.1" font-size="42">(a)</text>
<text x="210.5" y="459.4" font-size="42">(b)</text>
<text x="210.5" y="828.8" font-size="42">(c)</text>
<text transform="translate(145.00,33.80) scale(0.940,1)" font-size="39.0" text-anchor="end">10<tspan dy="-13.9" font-size="31.2">-5</tspan></text>
<text transform="translate(145.00,119.73) scale(0.940,1)" font-size="39.0" text-anchor="end">10<tspan dy="-13.9" font-size="31.2">-10</tspan></text>
<text transform="translate(145.00,205.66) scale(0.940,1)" font-size="39.0" text-anchor="end">10<tspan dy="-13.9" font-size="31.2">-15</tspan></text>
<text transform="translate(145.00,291.60) scale(0.940,1)" font-size="39.0" text-anchor="end">10<tspan dy="-13.9" font-size="31.2">-20</tspan></text>
<text transform="translate(145.00,377.53) scale(0.940,1)" font-size="39.0" text-anchor="end">10<tspan dy="-13.9" font-size="31.2">-25</tspan></text>
<text transform="translate(144.60,454.00) scale(0.940,1)" font-size="39.0" text-anchor="end">0.8</text>
<text transform="translate(144.60,537.60) scale(0.940,1)" font-size="39.0" text-anchor="end">0.6</text>
<text transform="translate(144.60,621.20) scale(0.940,1)" font-size="39.0" text-anchor="end">0.4</text>
<text transform="translate(144.60,704.80) scale(0.940,1)" font-size="39.0" text-anchor="end">0.2</text>
<text transform="translate(144.60,788.40) scale(0.940,1)" font-size="39.0" text-anchor="end">0</text>
<text transform="translate(144.00,875.85) scale(0.940,1)" font-size="39.0" text-anchor="end">1.3</text>
<text transform="translate(144.00,973.00) scale(0.940,1)" font-size="39.0" text-anchor="end">1.2</text>
<text transform="translate(144.00,1070.15) scale(0.940,1)" font-size="39.0" text-anchor="end">1.1</text>
<text transform="translate(144.00,1167.30) scale(0.940,1)" font-size="39.0" text-anchor="end">1</text>
<text transform="translate(315.50,1199.40) scale(0.940,1)" font-size="39.0" text-anchor="middle">0.1</text>
<text transform="translate(975.00,1199.40) scale(0.940,1)" font-size="39.0" text-anchor="middle">1</text>
<g transform="translate(0.00,400.00) rotate(-90)"><text x="5.82" y="38.70" font-size="43.50" font-style="italic">N</text><text x="33.96" y="47.80" font-size="34.50">A</text><text transform="translate(44.71,38.88) scale(0.830,1.000)" font-size="34.00" style='font-family:"Liberation Serif","Noto Sans CJK JP",sans-serif'>&#x3008;</text><text x="73.78" y="38.70" font-size="40.00">&#x3C3;</text><text x="97.40" y="38.70" font-size="43.50">v</text><text transform="translate(118.23,38.88) scale(0.830,1.000)" font-size="34.00" style='font-family:"Liberation Serif","Noto Sans CJK JP",sans-serif'>&#x3009;</text><text x="142.79" y="38.70" font-size="43.50">(</text><text x="156.54" y="38.70" font-size="43.50">c</text><text x="175.39" y="38.70" font-size="43.50">m</text><text x="207.95" y="23.00" font-size="34.50">3</text><text x="224.69" y="38.70" font-size="43.50">m</text><text x="257.74" y="38.70" font-size="43.50">o</text><text x="279.03" y="38.70" font-size="43.50">l</text><text x="290.82" y="23.00" font-size="34.50">-</text><text x="302.57" y="23.00" font-size="34.50">1</text><text x="318.62" y="38.70" font-size="43.50">s</text><text x="334.92" y="23.00" font-size="34.50">-</text><text x="346.87" y="23.00" font-size="34.50">1</text><text x="361.70" y="38.70" font-size="43.50">)</text></g>
<g transform="translate(0.00,1150.00) rotate(-90)"><text x="12.42" y="39.00" font-size="43.50" font-style="italic">N</text><text x="41.36" y="48.00" font-size="34.50">A</text><text transform="translate(51.81,39.28) scale(0.830,1.000)" font-size="34.00" style='font-family:"Liberation Serif","Noto Sans CJK JP",sans-serif'>&#x3008;</text><text x="80.88" y="39.00" font-size="40.00">&#x3C3;</text><text x="104.40" y="39.00" font-size="43.50">v</text><text transform="translate(125.63,39.28) scale(0.830,1.000)" font-size="34.00" style='font-family:"Liberation Serif","Noto Sans CJK JP",sans-serif'>&#x3009;</text><text x="140.10" y="39.00" font-size="43.50">/</text><text x="150.82" y="39.00" font-size="43.50" font-style="italic">N</text><text x="179.16" y="48.00" font-size="34.50">A</text><text transform="translate(189.71,39.28) scale(0.830,1.000)" font-size="34.00" style='font-family:"Liberation Serif","Noto Sans CJK JP",sans-serif'>&#x3008;</text><text x="218.48" y="39.00" font-size="40.00">&#x3C3;</text><text x="242.10" y="39.00" font-size="43.50">v</text><text transform="translate(263.43,39.28) scale(0.830,1.000)" font-size="34.00" style='font-family:"Liberation Serif","Noto Sans CJK JP",sans-serif'>&#x3009;</text><text x="277.75" y="48.00" font-size="34.50">d</text><text x="294.45" y="48.00" font-size="34.50">e</text><text x="309.40" y="48.00" font-size="34.50">b</text><text x="327.27" y="48.00" font-size="34.50">1</text><text x="342.13" y="48.00" font-size="34.50">7</text></g>
<g transform="translate(39.1,654.7) rotate(-90)"><text x="-1.25" y="0" font-size="43.5">Fraction</text></g>
<text x="548.05" y="1238.4" font-size="43.5" font-style="italic">T</text>
<text x="570.59" y="1247.24" font-size="34.5">9</text>
</svg></body></html>
